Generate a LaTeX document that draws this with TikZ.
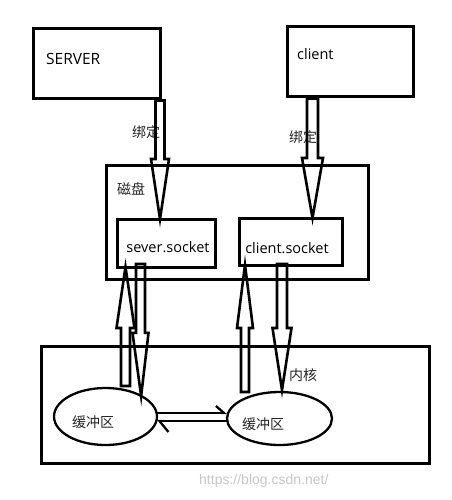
\documentclass[tikz,border=0pt]{standalone}
\usepackage{fontspec}
\setmainfont{Open Sans}
\newfontfamily\cjk{Noto Sans CJK SC}
\newfontfamily\wmfont{Liberation Sans}
\usetikzlibrary{calc,arrows.meta,shapes.geometric}
\newcommand\fatarrow[5]{%
  \draw[fatline] let \p1=#1, \p2=#2, \n1={ifthenelse(\y2>\y1,1,-1)} in
   ({\x1-#3pt},\y1) -- ({\x1-#3pt},{\y2-(\n1)*#5pt}) -- ({\x1-#4pt},{\y2-(\n1)*#5pt})
   -- (\x2,\y2) -- ({\x1+#4pt},{\y2-(\n1)*#5pt}) -- ({\x1+#3pt},{\y2-(\n1)*#5pt})
   -- ({\x1+#3pt},\y1) -- cycle;}
\begin{document}
\begin{tikzpicture}[x=1pt,y=-1pt,
  box/.style={draw,line width=3pt,inner sep=0pt,outer sep=0pt},
  buf/.style={draw,ellipse,line width=2.3pt,inner sep=0pt,outer sep=0pt},
  fatline/.style={draw,line width=2.6pt,line join=miter},
  thinline/.style={line width=2.3pt},
  lat/.style={font=\fontsize{14.5pt}{16pt}\selectfont,inner sep=0pt},
  zh/.style={font=\cjk\fontsize{14pt}{16pt}\selectfont,inner sep=0pt,text=black!85}]
\fill[white] (0,0) rectangle (451,500);
\useasboundingbox (0,0) rectangle (451,500);

% boxes
\node[box,minimum width=127pt,minimum height=70pt] (server) at (96.5,64) {};
\node[box,minimum width=126pt,minimum height=70pt] (client) at (350,62) {};
\node[box,minimum width=262pt,minimum height=114pt] (disk) at (237,222) {};
\node[box,minimum width=98pt,minimum height=48pt] (ssock) at (166,243) {};
\node[box,minimum width=103pt,minimum height=47pt] (csock) at (290.5,241.5) {};
\node[box,minimum width=388pt,minimum height=117pt] (kernel) at (235,404.5) {};
\node[buf,minimum width=103pt,minimum height=57pt] (buf1) at (105.5,416.5) {};
\node[buf,minimum width=105pt,minimum height=53pt] (buf2) at (279.5,418.5) {};

% texts
\node[lat,anchor=west,font=\fontsize{15.5pt}{17pt}\selectfont] (servert) at (46,59) {SERVER};
\node[lat,anchor=west] (clientt) at (297,54) {client};
\node[zh] (bind1) at (146,132) {绑定};
\node[zh] (bind2) at (303,137) {绑定};
\node[zh,anchor=west] (diskt) at (117,189) {磁盘};
\node[lat] (ssockt) at (168,247) {sever.socket};
\node[lat] (csockt) at (287,248) {client.socket};
\node[zh] (kernelt) at (303,375) {内核};
\node[zh] (buf1t) at (93,422) {缓冲区};
\node[zh] (buf2t) at (263,424) {缓冲区};

% fat arrows
\coordinate (a1s) at ($(server.south east)+(0,1.5)$);
\coordinate (a1e) at (a1s |- ssock.north);
\fatarrow{(a1s)}{(a1e)}{4.5}{9}{60}
\coordinate (a2s) at ($(client.south west)+(25.5,1.5)$);
\coordinate (a2e) at (a2s |- csock.north);
\fatarrow{(a2s)}{(a2e)}{5.5}{10.5}{60}

\coordinate (a3e) at ($(ssock.south west)+(8.5,0)$);
\coordinate (a3s) at ($(a3e |- buf1.north)+(0,-2)$);
\fatarrow{(a3s)}{(a3e)}{4.5}{9}{61}
\coordinate (a4s) at ($(ssock.south west)+(23.5,-3)$);
\coordinate (a4e) at (buf1.30);
\fatarrow{(a4s)}{(a4e)}{4.5}{8}{63}

\coordinate (a5e) at ($(csock.south west)+(6,0)$);
\coordinate (a5s) at (a5e |- buf2.north);
\fatarrow{(a5s)}{(a5e)}{4}{8}{63}
\coordinate (a6s) at ($(csock.south west)+(43,-1)$);
\coordinate (a6e) at ($(buf2.north)+(2.5,-2)$);
\fatarrow{(a6s)}{(a6e)}{5}{9.5}{62}

% harpoons between buffers
\draw[thinline,-{Straight Barb[left,length=8pt,width=14pt]}] (buf1.east |- 0,413) -- (buf2.west |- 0,413);
\draw[thinline,-{Straight Barb[left,length=9pt,width=22pt]}] (buf2.west |- 0,421) -- (buf1.east |- 0,421);

% watermark
\node[anchor=west,inner sep=0pt,text=black!22,font=\wmfont\fontsize{14pt}{16pt}\selectfont] (wm) at (199,481) {https://blog.csdn.net/};
\end{tikzpicture}
\end{document}
